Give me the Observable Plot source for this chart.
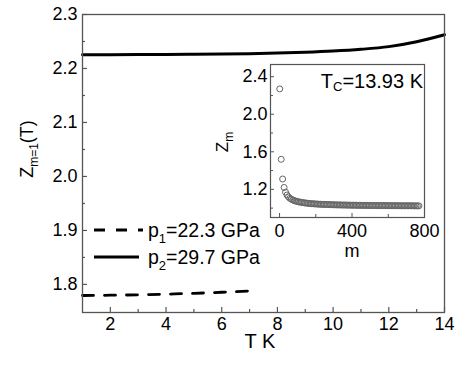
<!DOCTYPE html>
<html>
<head>
<meta charset="utf-8">
<script src="https://cdn.jsdelivr.net/npm/d3@7"></script>
<script src="https://cdn.jsdelivr.net/npm/@observablehq/plot@0.6"></script>
<style>
  html, body { margin: 0; padding: 0; background: #fff; }
  #wrap { position: relative; width: 474px; height: 366px; font-family: "Liberation Sans", Arial, sans-serif; }
  #wrap svg { position: absolute; overflow: visible; }
</style>
</head>
<body>
<div id="wrap"></div>
<script>
// ---- main panel data ----
const T_p2 = [1, 2, 3, 4, 5, 6, 7, 8, 9, 10, 11, 12, 13, 14];
const Z_p2 = [2.2254, 2.2255, 2.2257, 2.226, 2.2263, 2.2268, 2.2275, 2.2285, 2.230, 2.2322, 2.2355, 2.2405, 2.2495, 2.2625];
const T_p1 = [1, 2, 3, 4, 5, 6, 7, 7.1];
const Z_p1 = [1.7795, 1.780, 1.7808, 1.782, 1.7835, 1.7855, 1.788, 1.7883];
const xTicksMajor = [2, 4, 6, 8, 10, 12, 14];
const xTicksMinor = [3, 5, 7, 9, 11, 13];
const yTicksMajor = [1.8, 1.9, 2.0, 2.1, 2.2, 2.3];
const yTicksMinor = [1.85, 1.95, 2.05, 2.15, 2.25];
const legendLabels = [["p", "1", "=22.3 GPa"], ["p", "2", "=29.7 GPa"]];

// ---- inset data ----
const m_vals = [1, 9, 17, 25, 33, 41, 49, 57, 65, 73, 81, 89, 97, 105, 113, 121, 129, 137, 145, 153, 161, 169, 177, 185, 193, 201,
  209, 217, 225, 233, 241, 249, 257, 265, 273, 281, 289, 297, 305, 313, 321, 329, 337, 345, 353, 361, 369, 377, 385, 393, 401,
  409, 417, 425, 433, 441, 449, 457, 465, 473, 481, 489, 497, 505, 513, 521, 529, 537, 545, 553, 561, 569, 577, 585, 593, 601,
  609, 617, 625, 633, 641, 649, 657, 665, 673, 681, 689, 697, 705, 713, 721, 729, 737, 745, 753, 761, 769];
const Zm_vals = [2.27, 1.52, 1.31, 1.22, 1.17, 1.14, 1.12, 1.105, 1.095, 1.087, 1.080, 1.075, 1.071, 1.067, 1.064, 1.061, 1.058, 1.056, 1.054, 1.052, 1.050, 1.049, 1.047, 1.046, 1.045, 1.044,
  1.043, 1.042, 1.041, 1.040, 1.040, 1.039, 1.038, 1.038, 1.037, 1.037, 1.036, 1.036, 1.035, 1.035, 1.034, 1.034, 1.034, 1.033, 1.033, 1.033, 1.032, 1.032, 1.032, 1.031, 1.031,
  1.031, 1.031, 1.030, 1.030, 1.030, 1.030, 1.029, 1.029, 1.029, 1.029, 1.029, 1.028, 1.028, 1.028, 1.028, 1.028, 1.028, 1.027, 1.027, 1.027, 1.027, 1.027, 1.027, 1.027, 1.026,
  1.026, 1.026, 1.026, 1.026, 1.026, 1.026, 1.026, 1.025, 1.025, 1.025, 1.025, 1.025, 1.025, 1.025, 1.025, 1.025, 1.025, 1.024, 1.024, 1.024, 1.024];
const mTicksMajor = [0, 400, 800];
const mTicksMinor = [200, 600];
const zTicksMajor = [1.2, 1.6, 2.0, 2.4];
const zTicksMinor = [1.0, 1.4, 1.8, 2.2];

const p1 = T_p1.map((t, i) => ({T: t, Z: Z_p1[i]}));
const p2 = T_p2.map((t, i) => ({T: t, Z: Z_p2[i]}));
const inset = m_vals.map((m, i) => ({m, Z: Zm_vals[i]}));

const FONT = "Liberation Sans, Arial, sans-serif";
const axisColor = "#555";

// main
const W = 474, H = 366, mL = 82, mR = 30, mT = 14, mB = 54;
const pw = W - mL - mR, ph = H - mT - mB;
const mainSvg = Plot.plot({
  width: W, height: H,
  marginLeft: mL, marginRight: mR, marginTop: mT, marginBottom: mB,
  style: {fontFamily: FONT, fontSize: "18px", color: "#000", background: "transparent"},
  x: {domain: [1, 14]},
  y: {domain: [1.748, 2.3]},
  marks: [
    Plot.tickX(xTicksMajor, {x: d => d, insetTop: ph - 5, stroke: axisColor, strokeWidth: 1.2}),
    Plot.tickX(xTicksMinor, {x: d => d, insetTop: ph - 3, stroke: axisColor, strokeWidth: 1.2}),
    Plot.tickY(yTicksMajor, {y: d => d, insetRight: pw - 5, stroke: axisColor, strokeWidth: 1.2}),
    Plot.tickY(yTicksMinor, {y: d => d, insetRight: pw - 3, stroke: axisColor, strokeWidth: 1.2}),
    Plot.axisX({ticks: xTicksMajor, tickSize: 0, tickPadding: 5, label: null, fontSize: 18}),
    Plot.axisY({ticks: yTicksMajor, tickSize: 0, tickPadding: 5, label: null, fontSize: 18, tickFormat: d3.format(".1f")}),
    Plot.line(p2, {x: "T", y: "Z", curve: "monotone-x", stroke: "#000", strokeWidth: 3}),
    Plot.line(p1, {x: "T", y: "Z", curve: "monotone-x", stroke: "#000", strokeWidth: 2.8, strokeDasharray: "11,11"}),
    Plot.frame({stroke: axisColor, strokeWidth: 1.3})
  ]
});
mainSvg.style.left = "0px"; mainSvg.style.top = "0px";
document.getElementById("wrap").appendChild(mainSvg);

const ms = d3.select(mainSvg);
// axis labels
ms.append("text").attr("x", 260).attr("y", 348).attr("text-anchor", "middle")
  .attr("font-family", FONT).attr("font-size", 20).attr("fill", "#000").text("T K");
const yl = ms.append("text").attr("transform", "translate(33,149) rotate(-90)").attr("text-anchor", "middle")
  .attr("font-family", FONT).attr("font-size", 18).attr("fill", "#000");
yl.append("tspan").text("Z");
yl.append("tspan").attr("dy", 5).attr("font-size", 12).text("m=1");
yl.append("tspan").attr("dy", -5).text("(T)");

// legend
const legY = [230, 257];
const legEnd = [143, 139];
legendLabels.forEach((lab, i) => {
  ms.append("line").attr("x1", 94).attr("x2", legEnd[i]).attr("y1", legY[i]).attr("y2", legY[i])
    .attr("stroke", "#000").attr("stroke-width", i === 0 ? 2.8 : 3)
    .attr("stroke-dasharray", i === 0 ? "11,11" : null);
  const t = ms.append("text").attr("x", 148).attr("y", legY[i] + 7).attr("text-anchor", "start")
    .attr("font-family", FONT).attr("font-size", 19.5).attr("fill", "#000");
  t.append("tspan").text(lab[0]);
  t.append("tspan").attr("dy", 6).attr("font-size", 13).text(lab[1]);
  t.append("tspan").attr("dy", -6).text(lab[2]);
});

// inset
const iL = 230, iT = 55, iW = 206, iH = 212, imL = 40, imR = 12, imT = 9, imB = 50;
const ipw = iW - imL - imR, iph = iH - imT - imB;
const insetSvg = Plot.plot({
  width: iW, height: iH,
  marginLeft: imL, marginRight: imR, marginTop: imT, marginBottom: imB,
  style: {fontFamily: FONT, fontSize: "18px", color: "#000", background: "transparent"},
  x: {domain: [-50, 800]},
  y: {domain: [0.9, 2.53]},
  marks: [
    Plot.tickX(mTicksMajor, {x: d => d, insetTop: iph - 4, stroke: axisColor}),
    Plot.tickX(mTicksMinor, {x: d => d, insetTop: iph - 3, stroke: axisColor}),
    Plot.tickY(zTicksMajor, {y: d => d, insetRight: ipw - 4, stroke: axisColor}),
    Plot.tickY(zTicksMinor, {y: d => d, insetRight: ipw - 3, stroke: axisColor}),
    Plot.axisX({ticks: mTicksMajor, tickSize: 0, tickPadding: 7, label: null, fontSize: 18}),
    Plot.axisY({ticks: zTicksMajor, tickSize: 0, tickPadding: 3, label: null, fontSize: 18, tickFormat: d3.format(".1f")}),
    Plot.dot(inset, {x: "m", y: "Z", r: 3, stroke: "#666", strokeWidth: 1, fill: "none"}),
    Plot.frame({stroke: axisColor, strokeWidth: 1.2})
  ]
});
insetSvg.style.left = iL + "px"; insetSvg.style.top = iT + "px";
document.getElementById("wrap").appendChild(insetSvg);
const is = d3.select(insetSvg);
is.append("text").attr("x", 352 - iL).attr("y", 257 - iT).attr("text-anchor", "middle")
  .attr("font-family", FONT).attr("font-size", 18).attr("fill", "#000").text("m");
const zl = is.append("text").attr("transform", `translate(${228 - iL},${142 - iT}) rotate(-90)`).attr("text-anchor", "middle")
  .attr("font-family", FONT).attr("font-size", 17).attr("fill", "#000");
zl.append("tspan").text("Z");
zl.append("tspan").attr("dy", 5).attr("font-size", 12).text("m");
const tc = is.append("text").attr("x", 423 - iL).attr("y", 88 - iT).attr("text-anchor", "end")
  .attr("font-family", FONT).attr("font-size", 20).attr("fill", "#000");
tc.append("tspan").text("T");
tc.append("tspan").attr("dy", 3).attr("font-size", 13).text("C");
tc.append("tspan").attr("dy", -3).text("=13.93 K");
</script>
</body>
</html>
